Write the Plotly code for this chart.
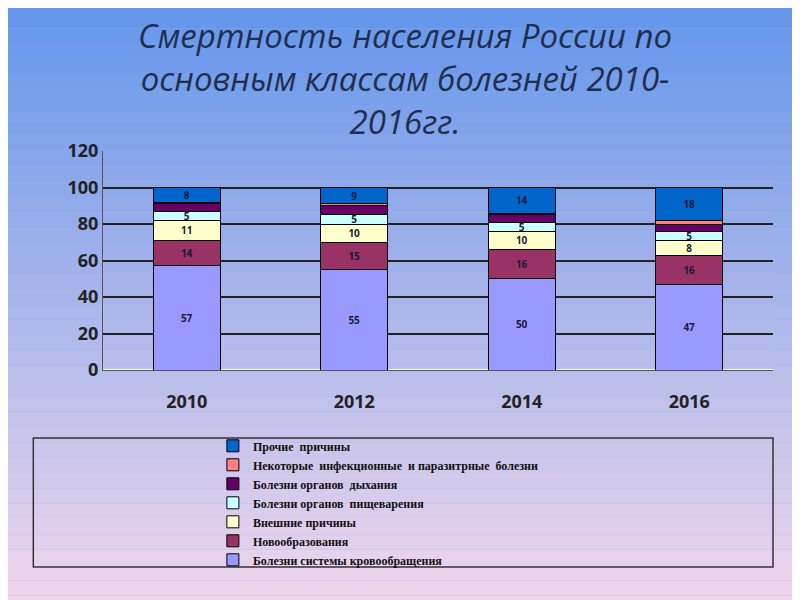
import plotly.graph_objects as go

years = ["2010", "2012", "2014", "2016"]
circulatory = [57, 55, 50, 47]
neoplasms = [14, 15, 16, 16]
external = [11, 10, 10, 8]
digestive = [5, 5, 5, 5]
respiratory = [4, 5, 4, 4]
infections = [1, 1, 1, 2]
other = [8, 9, 14, 18]

series = [
    ("Болезни системы кровообращения", circulatory, "#9999ff", True),
    ("Новообразования", neoplasms, "#993366", True),
    ("Внешние причины", external, "#ffffcc", True),
    ("Болезни органов  пищеварения", digestive, "#ccffff", True),
    ("Болезни органов  дыхания", respiratory, "#660066", False),
    ("Некоторые  инфекционные  и паразитрные  болезни", infections, "#ff8080", False),
    ("Прочие  причины", other, "#0066cc", True),
]

fig = go.Figure()
for name, vals, col, show in series:
    fig.add_bar(x=years, y=vals, name=name, marker_color=col,
                marker_line_color="black", marker_line_width=1,
                text=vals if show else None, textposition="inside" if show else "none",
                insidetextanchor="middle", textangle=0, constraintext="none",
                textfont=dict(family="Open Sans", size=10, color="#1a1a3a", weight="bold"))

# background gradient
shapes = []
n = 40
top, bot = (100, 150, 235), (240, 215, 235)
for i in range(n):
    t = i / (n - 1)
    c = tuple(int(top[k] + (bot[k] - top[k]) * t) for k in range(3))
    shapes.append(dict(type="rect", xref="paper", yref="paper", layer="below",
                       x0=-0.2, x1=1.1, y0=1.7 - (i + 1) * 2.8 / n, y1=1.7 - i * 2.8 / n,
                       fillcolor="rgb(%d,%d,%d)" % c, line_width=0))
shapes.append(dict(type="rect", xref="paper", yref="paper", x0=-0.104, x1=1.0,
                   y0=-0.9, y1=-0.31, line=dict(color="#333", width=1.5)))

fig.update_layout(
    width=800, height=600, barmode="stack", bargap=0.6,
    margin=dict(l=95, r=35, t=143, b=238),
    paper_bgcolor="#8fb0ee", plot_bgcolor="#c0c0c0",
    shapes=shapes,
    annotations=[dict(text="<i>Смертность населения России по<br>основным классам болезней 2010-<br>2016гг.</i>",
                      xref="paper", yref="paper", x=0.45, y=1.64, xanchor="center", yanchor="top",
                      showarrow=False, font=dict(family="Open Sans", size=33, color="#1f2f4f"))],
    legend=dict(x=0.164, y=-0.28, yanchor="top", xanchor="left", traceorder="reversed",
                bgcolor="rgba(0,0,0,0)", tracegroupgap=0, itemwidth=30,
                font=dict(family="Liberation Serif", size=12, color="#111", weight="bold")),
    showlegend=True,
)
fig.update_xaxes(tickfont=dict(family="Open Sans", size=18, color="#222", weight="bold"),
                 ticklabelstandoff=15, showline=True, linecolor="#555")
fig.update_yaxes(range=[0, 120], dtick=20, gridcolor="#222", gridwidth=1.5,
                 tickfont=dict(family="Open Sans", size=18, color="#222", weight="bold"),
                 showline=True, linecolor="#555")
fig.write_html("out.html")
